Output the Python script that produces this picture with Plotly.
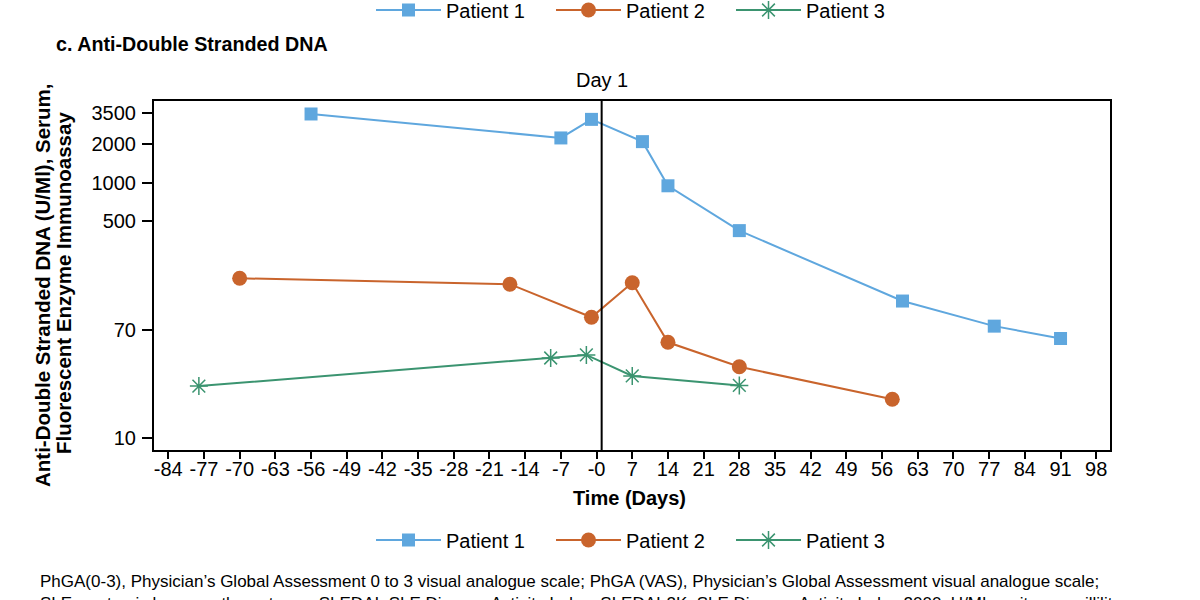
import plotly.graph_objects as go

# ---- data ----
p1_days = [-56, -7, -1, 9, 14, 28, 60, 78, 91]
p1_vals = [3460, 2245, 3140, 2100, 946, 421, 118, 75, 60]
p2_days = [-70, -17, -1, 7, 14, 28, 58]
p2_vals = [178, 160, 88, 164, 56, 36, 20]
p3_days = [-78, -9, -2, 7, 28]
p3_vals = [25.4, 42.2, 44.6, 30.5, 25.7]

series_names = ["Patient 1", "Patient 2", "Patient 3"]
x_tick_vals = list(range(-84, 99, 7))
x_tick_text = [("-0" if v == 0 else str(v)) for v in x_tick_vals]
y_tick_vals = [10, 70, 500, 1000, 2000, 3500]
y_tick_text = ["10", "70", "500", "1000", "2000", "3500"]
day1 = 1

colors = ["#5fa7de", "#c9642c", "#3b9470"]
symbols = ["square", "circle", "asterisk-open"]
sizes = [13, 15, 15]

FONT = "Liberation Sans, Arial, sans-serif"

fig = go.Figure()
data = [(p1_days, p1_vals), (p2_days, p2_vals), (p3_days, p3_vals)]
for i, (xs, ys) in enumerate(data):
    mk = dict(symbol=symbols[i], size=sizes[i], color=colors[i],
              line=dict(color=colors[i], width=1.5 if i == 2 else 0))
    fig.add_trace(go.Scatter(x=xs, y=ys, mode="lines+markers", name=series_names[i],
                             line=dict(color=colors[i], width=2), marker=mk,
                             legend="legend"))
for i in range(3):
    mk = dict(symbol=symbols[i], size=sizes[i], color=colors[i],
              line=dict(color=colors[i], width=1.5 if i == 2 else 0))
    fig.add_trace(go.Scatter(x=[None], y=[None], mode="lines+markers", name=series_names[i],
                             line=dict(color=colors[i], width=2), marker=mk,
                             legend="legend2"))

fig.add_shape(type="line", x0=day1, x1=day1, xref="x", y0=0, y1=1, yref="y domain",
              line=dict(color="black", width=2))

leg_common = dict(orientation="h", xanchor="left", yanchor="middle",
                  xref="container", yref="container", font=dict(size=20),
                  bgcolor="rgba(0,0,0,0)", itemwidth=65, entrywidth=100,
                  tracegroupgap=0)
fig.update_layout(
    width=1200, height=600,
    margin=dict(l=154, r=90, t=101, b=150, autoexpand=False),
    paper_bgcolor="white", plot_bgcolor="white",
    font=dict(family=FONT, size=20, color="black"),
    showlegend=True,
    legend=dict(x=371 / 1200, y=1 - 10 / 600, **leg_common),
    legend2=dict(x=371 / 1200, y=1 - 540 / 600, **leg_common),
)
fig.update_xaxes(range=[-86.8, 100.7], tickmode="array", tickvals=x_tick_vals,
                 ticktext=x_tick_text, ticks="outside", ticklen=7, tickwidth=2,
                 tickcolor="black", showline=True, linewidth=2, linecolor="black",
                 mirror=True, showgrid=False, zeroline=False, automargin=False,
                 ticklabelstandoff=-7, tickfont=dict(size=20))
fig.update_yaxes(type="log", range=[0.9035, 3.641], tickmode="array", tickvals=y_tick_vals,
                 ticktext=y_tick_text, ticks="outside", ticklen=10, tickwidth=2,
                 tickcolor="black", showline=True, linewidth=2, linecolor="black",
                 mirror=True, showgrid=False, zeroline=False, automargin=False,
                 ticklabelstandoff=2, tickfont=dict(size=20))

def px_x(px):
    return (px - 154) / 956

def px_y(py):
    return 1 - (py - 101) / 349

fig.add_annotation(text="<b>c. Anti-Double Stranded DNA</b>", xref="paper", yref="paper",
                   x=px_x(54), y=px_y(44), xanchor="left", yanchor="middle",
                   showarrow=False, font=dict(size=19.7))
fig.add_annotation(text="Day 1", xref="x", yref="paper", x=day1, y=px_y(80),
                   xanchor="center", yanchor="middle", showarrow=False, font=dict(size=20))
fig.add_annotation(text="<b>Time (Days)</b>", xref="paper", yref="paper", x=px_x(629), y=px_y(498),
                   xanchor="center", yanchor="middle", showarrow=False, font=dict(size=20))
fig.add_annotation(text="<b>Anti-Double Stranded DNA (U/Ml), Serum,</b>",
                   xref="paper", yref="paper", x=px_x(42), y=px_y(285),
                   xanchor="center", yanchor="middle", textangle=-90, showarrow=False,
                   font=dict(size=20.5))
fig.add_annotation(text="<b>Fluorescent Enzyme Immunoassay</b>",
                   xref="paper", yref="paper", x=px_x(63), y=px_y(283),
                   xanchor="center", yanchor="middle", textangle=-90, showarrow=False,
                   font=dict(size=20.5))
fig.add_annotation(text="PhGA(0-3), Physician\u2019s Global Assessment 0 to 3 visual analogue scale; PhGA (VAS), Physician\u2019s Global Assessment visual analogue scale;<br>"
                        "SLE, systemic lupus erythematosus; SLEDAI, SLE Disease Activity Index; SLEDAI-2K, SLE Disease Activity Index 2000; U/ML, units per millilitre",
                   xref="paper", yref="paper", x=px_x(38), y=px_y(570),
                   xanchor="left", yanchor="top", align="left", showarrow=False,
                   font=dict(size=17))

fig.write_html("out.html")
